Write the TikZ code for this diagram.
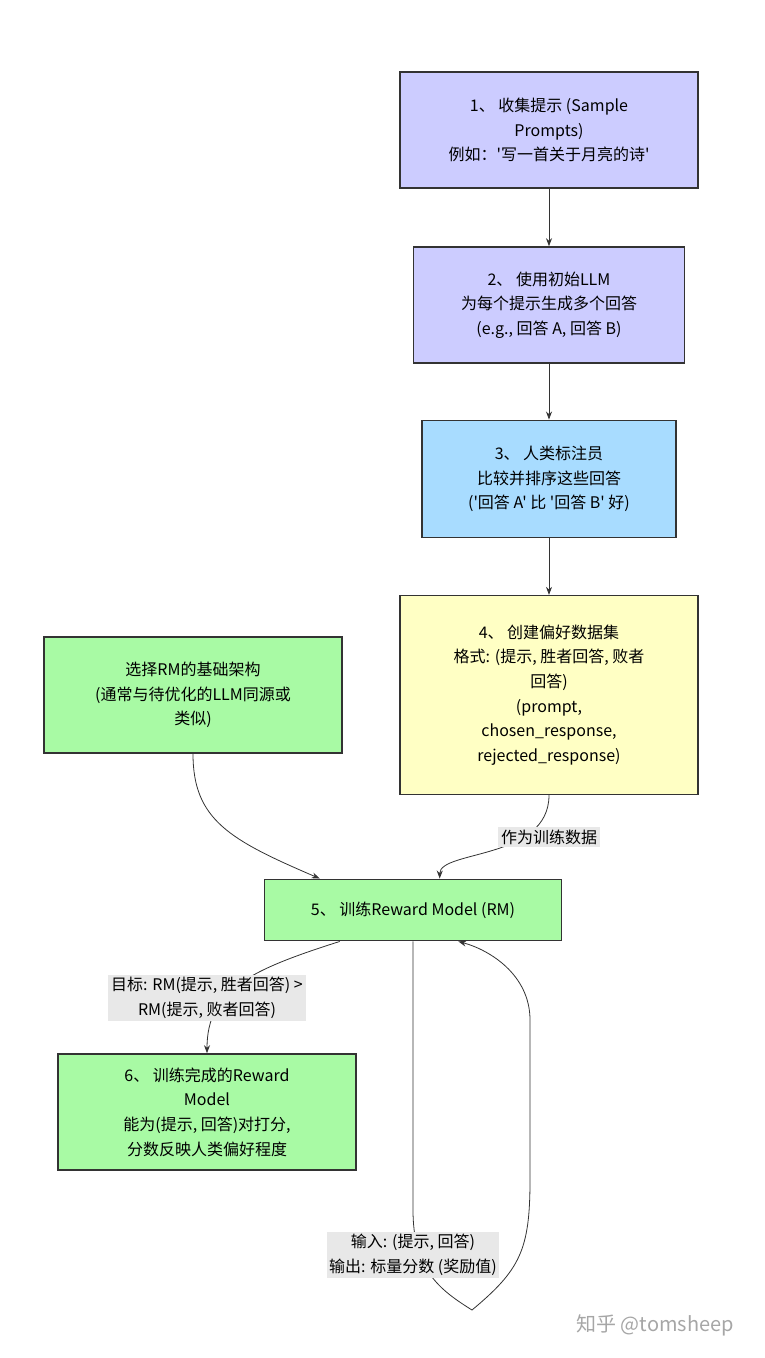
\documentclass[tikz,border=0pt]{standalone}
\usepackage{fontspec}
\newfontfamily\cjk{Noto Sans CJK SC}
\usetikzlibrary{arrows.meta}
\definecolor{lav}{HTML}{CCCCFF}
\definecolor{sky}{HTML}{A8DCFF}
\definecolor{cream}{HTML}{FFFFC4}
\definecolor{mint}{HTML}{A8FAA4}
\definecolor{edge}{HTML}{333333}
\definecolor{lbl}{HTML}{E8E8E8}
\begin{document}
\begin{tikzpicture}
[ x=0.75pt, y=-0.75pt, font=\cjk\fontsize{12}{18.5}\selectfont
, stage/.style={rectangle, draw=edge, line width=1.2pt, align=center, inner sep=0pt}
, flow/.style={draw=edge, line width=0.6pt, -{Stealth[length=6pt]}}
, tag/.style={fill=lbl, align=center, inner sep=2pt, font=\cjk\fontsize{12}{18.5}\selectfont}
]
\useasboundingbox (0,0) rectangle (764,1358);
% stages
\node (collect) [stage, fill=lav, minimum width=223.5pt, minimum height=87pt] at (549,130)
  {1、 收集提示 (Sample\\Prompts)\\例如：'写一首关于月亮的诗'};
\node (generate) [stage, fill=lav, minimum width=203pt, minimum height=87pt] at (549,305)
  {2、 使用初始LLM\\为每个提示生成多个回答\\(e.g., 回答 A, 回答 B)};
\node (rank) [stage, fill=sky, minimum width=190.5pt, minimum height=88pt] at (549,479)
  {3、 人类标注员\\比较并排序这些回答\\('回答 A' 比 '回答 B' 好)};
\node (dataset) [stage, fill=cream, minimum width=223.5pt, minimum height=149pt] at (549,695)
  {4、 创建偏好数据集\\格式: (提示, 胜者回答, 败者\\回答)\\(prompt,\\chosen\_response,\\rejected\_response)};
\node (arch) [stage, fill=mint, minimum width=223.5pt, minimum height=87pt] at (193,695)
  {选择RM的基础架构\\(通常与待优化的LLM同源或\\类似)};
\node (train) [stage, fill=mint, minimum width=223pt, minimum height=46pt] at (413,910)
  {5、 训练Reward Model (RM)};
\node (done) [stage, fill=mint, minimum width=223.5pt, minimum height=87pt] at (207,1112)
  {6、 训练完成的Reward\\Model\\能为(提示, 回答)对打分,\\分数反映人类偏好程度};
% connectors
\draw [flow] (collect) -- (generate);
\draw [flow] (generate) -- (rank);
\draw [flow] (rank) -- (dataset);
\draw [flow] (dataset.south) .. controls (549,860) and (440,850) .. ([xshift=20pt]train.north);
\node [tag] at (549,837) {作为训练数据};
\draw [flow] (arch.south) .. controls (193,820) and (230,840) .. ([xshift=-70pt]train.north);
\draw [flow] ([xshift=-55pt]train.south) .. controls (250,970) and (207,990) .. (done.north);
\node [tag] at (207,998) {目标: RM(提示, 胜者回答) >\\RM(提示, 败者回答)};
\coordinate (loop) at (472,1310);
\draw [flow] (train.south) -- (413,1210) .. controls (413,1270) and (440,1290) .. (loop)
  .. controls (520,1270) and (530,1250) .. (530,1180) -- (530,1020)
  .. controls (530,975) and (490,950) .. ([xshift=34pt]train.south);
\node [tag] at (413,1255) {输入: (提示, 回答)\\输出: 标量分数 (奖励值)};
\node [text=gray!70, font=\cjk\fontsize{15}{18}\selectfont] at (655,1325) {知乎 @tomsheep};
\end{tikzpicture}
\end{document}
